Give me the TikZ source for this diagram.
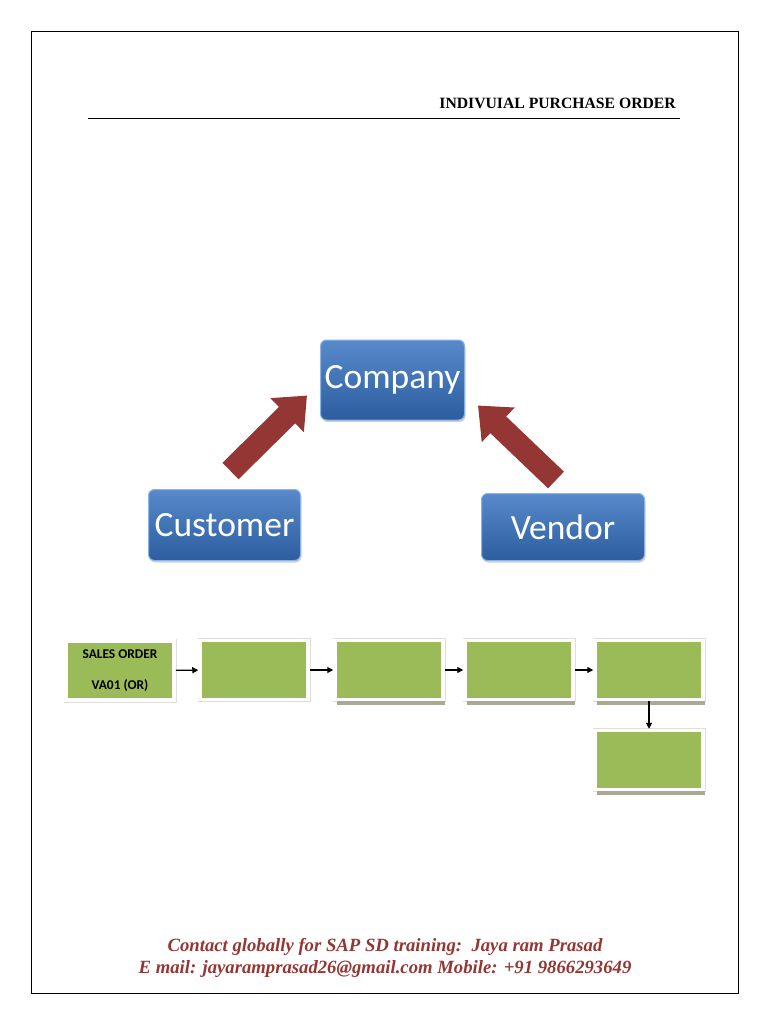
\documentclass[tikz,border=0pt]{standalone}
\usepackage{fontspec}
\setmainfont{Liberation Serif}
\newfontfamily\calibri{Carlito}
\usetikzlibrary{arrows.meta,shadows}
\definecolor{boxblue}{HTML}{3A75C2}
\definecolor{boxbluedark}{HTML}{2C5E9F}
\definecolor{boxblueedge}{HTML}{8DB3E2}
\definecolor{arrowred}{HTML}{943634}
\definecolor{stepgreen}{HTML}{9BBB59}
\definecolor{stepshadow}{HTML}{A7AB95}
\tikzset{
	bluebox/.style={shape=rectangle, rounded corners=6pt, top color=boxblue!85!white, bottom color=boxbluedark, draw=boxblueedge, line width=1pt, text=white, font=\calibri\fontsize{35.5}{40}\selectfont, drop shadow={shadow xshift=1pt, shadow yshift=-2pt, opacity=0.35}},
	bigarrow/.style={draw=arrowred, line width=23pt, -{Triangle[length=28pt, width=46pt, color=arrowred]}},
	stepbox/.style={shape=rectangle, fill=stepgreen, draw=white, line width=3.5pt, minimum width=108pt, minimum height=59pt, preaction={draw=black!13, line width=5pt}},
	stepshade/.style={stepbox, drop shadow={shadow xshift=1.5pt, shadow yshift=-5pt, fill=stepshadow, opacity=1}},
	flow/.style={draw=black, line width=1.1pt, -{Triangle[length=6pt, width=6pt]}}
}
\begin{document}
\begin{tikzpicture}[x=1pt, y=-1pt]
	\useasboundingbox (0,0) rectangle (768,1024);
	\draw[line width=0.8pt] (31,31) rectangle (738,993);
	
	\draw (676,109) node[anchor=base east, inner sep=0pt, font=\bfseries\fontsize{15.7}{18}\selectfont](title){INDIVUIAL PURCHASE ORDER};
	\draw[line width=1pt] (88,119) -- (680,119);
	
	\draw (392.5,380) node[bluebox, minimum width=144pt, minimum height=80pt](company){Company};
	\draw (224.5,525) node[bluebox, minimum width=152pt, minimum height=71pt](customer){Customer};
	\draw (563,527) node[bluebox, minimum width=163pt, minimum height=67pt](vendor){Vendor};
	
	\coordinate (custtail) at ([shift={(6,-18)}]customer.north);
	\coordinate (tipleft) at ([shift={(-13,-25)}]company.south west);
	\coordinate (vendtail) at ([shift={(-7,-13)}]vendor.north);
	\coordinate (tipright) at ([shift={(13,-15)}]company.south east);
	\draw[bigarrow] (custtail) -- (tipleft);
	\draw[bigarrow] (vendtail) -- (tipright);
	
	\draw (120,670.5) node[stepbox, align=center, font=\calibri\bfseries\fontsize{13.4}{15}\selectfont](sales){SALES ORDER\\[16pt]VA01 (OR)};
	\draw (254,670) node[stepbox](stepa){};
	\draw (389,670) node[stepshade](stepb){};
	\draw (519,670) node[stepshade](stepc){};
	\draw (649,670) node[stepshade](stepd){};
	\draw (649,760) node[stepshade](stepe){};
	
	\draw[flow] (sales) -- (stepa);
	\draw[flow] (stepa) -- (stepb);
	\draw[flow] (stepb) -- (stepc);
	\draw[flow] (stepc) -- (stepd);
	\draw[flow] (stepd) -- (stepe);
	
	\draw (385,958) node[align=center, text=arrowred, font=\bfseries\itshape\fontsize{18.7}{22}\selectfont](contact){Contact globally for SAP SD training:\ \ Jaya ram Prasad\\E mail: jayaramprasad26@gmail.com Mobile: +91 9866293649};
\end{tikzpicture}
\end{document}
